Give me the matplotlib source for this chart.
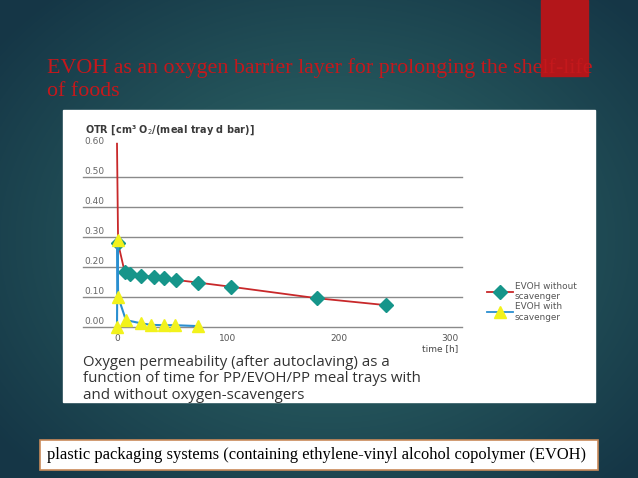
import numpy as np
import matplotlib.pyplot as plt
from matplotlib.patches import Rectangle

# data
t_plain = [0, 1, 7, 12, 22, 33, 42, 53, 73, 103, 180, 242]
otr_plain = [0.61, 0.278, 0.181, 0.175, 0.170, 0.167, 0.163, 0.156, 0.147, 0.133, 0.095, 0.072]
t_scav = [0, 0.5, 1, 8, 22, 31, 42, 52, 73]
otr_scav = [0.0, 0.29, 0.10, 0.022, 0.011, 0.006, 0.005, 0.005, 0.002]
yticks = [0.0, 0.1, 0.2, 0.3, 0.4, 0.5, 0.6]
xticks = [0, 100, 200, 300]

W, H = 638, 478
fig = plt.figure(figsize=(W / 100, H / 100), dpi=100)

# slide background
bg = fig.add_axes([0, 0, 1, 1])
bg.set_xlim(0, W)
bg.set_ylim(H, 0)
bg.axis('off')
yy, xx = np.mgrid[0:H, 0:W]
d = np.sqrt(((xx - 330) / 420.0) ** 2 + ((yy - 240) / 330.0) ** 2)
d = np.clip(d, 0, 1)[..., None]
c_mid = np.array([0x31, 0x6e, 0x6c]) / 255
c_edge = np.array([0x15, 0x36, 0x46]) / 255
bg.imshow(c_mid * (1 - d) + c_edge * d, extent=[0, W, H, 0], aspect='auto', zorder=0)

bg.add_patch(Rectangle((541, 0), 47, 76, color='#b3161a', zorder=1))
bg.text(47, 73, "EVOH as an oxygen barrier layer for prolonging the shelf-life",
        family='Liberation Serif', fontsize=15.8, color='#c4181c', zorder=2)
bg.text(47, 96, "of foods", family='Liberation Serif', fontsize=15.8, color='#c4181c', zorder=2)

# white picture panel
bg.add_patch(Rectangle((63, 110), 532, 292, color='white', zorder=1))
bg.text(85, 130, "OTR [cm³ O$_2$/(meal tray d bar)]", fontsize=7, fontweight='bold',
        color='#3a3a3a', va='center', zorder=2)
bg.text(458, 349, "time [h]", fontsize=6.5, color='#444444', ha='right', va='center', zorder=2)
caption = ["Oxygen permeability (after autoclaving) as a",
           "function of time for PP/EVOH/PP meal trays with",
           "and without oxygen-scavengers"]
for i, line in enumerate(caption):
    bg.text(83, 362 + i * 16.8, line, family='Open Sans', fontsize=10.8, color='#333333',
            va='center', zorder=2)

# bottom box
bg.add_patch(Rectangle((40, 440), 558, 30, facecolor='white', edgecolor='#c98a5a', lw=1.2, zorder=1))
bg.text(47, 455, "plastic packaging systems (containing ethylene-vinyl alcohol copolymer (EVOH)",
        family='Liberation Serif', fontsize=11.9, color='black', va='center', zorder=2)

# chart
x0 = -34 / 1.11
x1 = (462 - 117) / 1.11
ax = fig.add_axes([83 / W, 1 - 326.7 / H, (462 - 83) / W, 180 / H])
ax.set_xlim(x0, x1)
ax.set_ylim(0, 0.6)
ax.patch.set_alpha(0)
for s in ax.spines.values():
    s.set_visible(False)
ax.set_yticks([])
ax.set_xticks(xticks)
ax.set_xticklabels([str(v) for v in xticks])
ax.tick_params(axis='x', length=0, pad=5, labelsize=6.5, labelcolor='#555555')

for v in yticks:
    if v < 0.55:
        ax.axhline(v, color='#8a8a8a', lw=1, zorder=1, clip_on=False)
    ax.text(x0 + 1, v + 0.004, "%.2f" % v, fontsize=6.5, color='#666666', va='bottom', ha='left')

ax.plot(t_plain, otr_plain, color='#c8282a', lw=1.3, zorder=3, clip_on=False)
ax.plot(t_plain[1:], otr_plain[1:], linestyle='none', marker='D', markersize=7,
        color='#16958a', zorder=4, clip_on=False)
ax.plot(t_scav, otr_scav, color='#2a8fd0', lw=1.5, zorder=5, clip_on=False)
ax.plot(t_scav, otr_scav, linestyle='none', marker='^', markersize=8,
        color='#f2f21c', zorder=6, clip_on=False)

h1, = ax.plot([], [], color='#c8282a', lw=1.3, marker='D', markersize=7,
              markerfacecolor='#16958a', markeredgecolor='#16958a')
h2, = ax.plot([], [], color='#2a8fd0', lw=1.3, marker='^', markersize=8,
              markerfacecolor='#f2f21c', markeredgecolor='#f2f21c')
fig.legend([h1, h2], ["EVOH without\nscavenger", "EVOH with\nscavenger"],
           loc='upper left', bbox_to_anchor=(487 / W, 1 - 282 / H), frameon=False,
           fontsize=6.4, handlelength=2.9, handletextpad=0.25, labelspacing=0.1,
           borderaxespad=0, borderpad=0, labelcolor='#555555')

fig.savefig('out.png', dpi=100)
